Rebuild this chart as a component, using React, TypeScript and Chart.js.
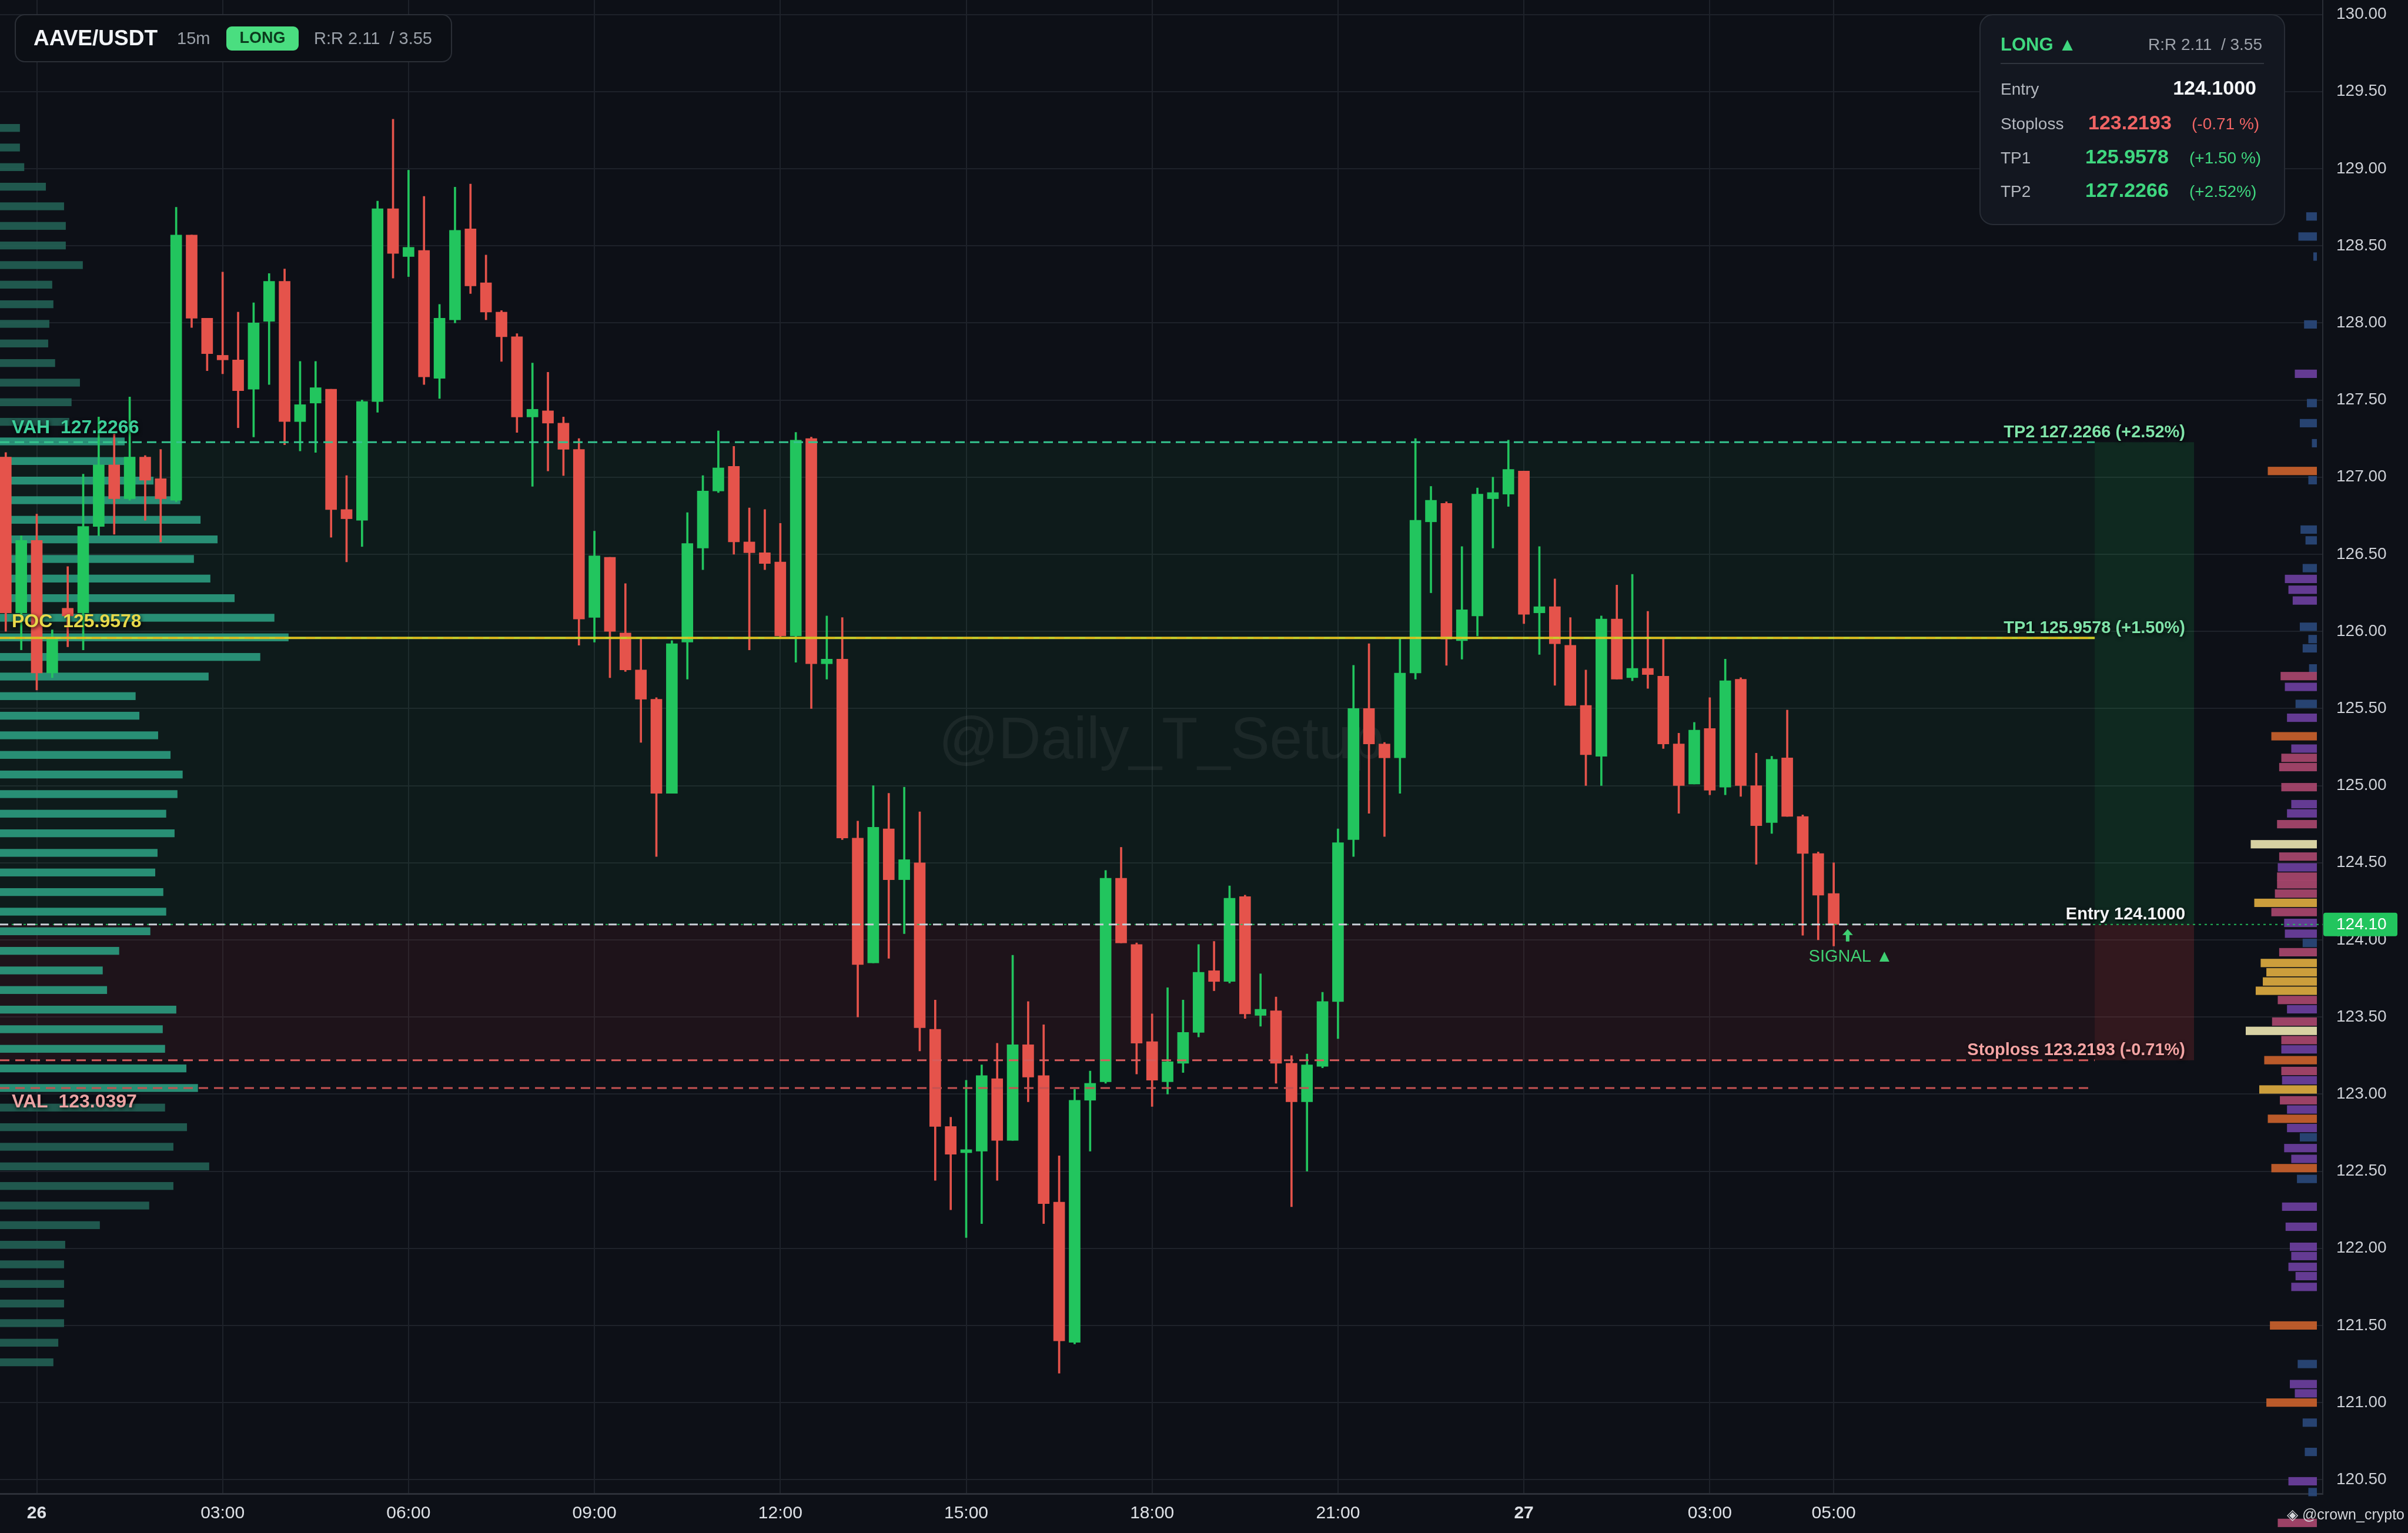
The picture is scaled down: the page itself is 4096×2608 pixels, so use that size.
import React, { useEffect, useRef } from 'react';
import { Chart, registerables } from 'chart.js';

Chart.register(...registerables);

// ---------------- data ----------------
const symbol = 'AAVE/USDT';
const timeframe = '15m';
const side = 'LONG';
const rrText = 'R:R 2.11  / 3.55';
const entryPrice = 124.1;
const stoplossPrice = 123.2193;
const tp1Price = 125.9578;
const tp2Price = 127.2266;
const pocPrice = 125.9578;
const vahPrice = 127.2266;
const valPrice = 123.0397;
const slPct = '-0.71';
const tp1Pct = '+1.50';
const tp2Pct = '+2.52';
const lastPriceTag = '124.10';

// first candle = 15-minute slot -2 relative to 26 00:00
const firstSlot = -2;

const opens = [
  127.13, 126.12, 126.59, 125.73, 126.15, 126.12, 126.68, 127.08, 126.86, 127.13,
  126.99, 126.85, 128.57, 128.03, 127.79, 127.76, 127.57, 128.01, 128.27, 127.36,
  127.48, 127.57, 126.79, 126.72, 127.49, 128.74, 128.43, 128.47, 127.64, 128.02,
  128.61, 128.26, 128.07, 127.91, 127.39, 127.43, 127.35, 127.18, 126.09, 126.48,
  125.99, 125.75, 125.56, 124.95, 125.93, 126.54, 126.91, 127.07, 126.58, 126.51,
  126.45, 125.97, 127.25, 125.79, 125.82, 124.66, 123.85, 124.72, 124.39, 124.50,
  123.42, 122.79, 122.62, 122.63, 123.10, 122.70, 123.32, 123.12, 122.30, 121.39,
  122.96, 123.08, 124.40, 123.97, 123.34, 123.08, 123.20, 123.40, 123.80, 123.73,
  124.28, 123.51, 123.54, 123.20, 122.95, 123.18, 123.60, 124.65, 125.50, 125.27,
  125.18, 125.73, 126.71, 126.83, 125.94, 126.10, 126.86, 126.89, 127.04, 126.12,
  126.16, 125.91, 125.52, 125.19, 126.08, 125.70, 125.76, 125.71, 125.27, 125.01,
  125.37, 124.99, 125.69, 125.00, 124.76, 125.18, 124.80, 124.56, 124.30,
];
const highs = [
  127.16, 126.62, 126.76, 126.01, 126.42, 127.02, 127.39, 127.28, 127.52, 127.14,
  127.18, 128.75, 128.57, 128.03, 128.33, 128.07, 128.13, 128.32, 128.35, 127.75,
  127.75, 127.57, 127.01, 127.50, 128.79, 129.32, 128.99, 128.82, 128.12, 128.88,
  128.90, 128.44, 128.08, 127.93, 127.74, 127.68, 127.39, 127.25, 126.65, 126.48,
  126.31, 125.95, 125.57, 125.94, 126.77, 127.01, 127.30, 127.20, 126.80, 126.79,
  126.70, 127.29, 127.26, 126.10, 126.09, 124.77, 125.00, 124.95, 124.99, 124.83,
  123.61, 122.85, 123.09, 123.19, 123.33, 123.90, 123.60, 123.45, 122.60, 123.03,
  123.15, 124.45, 124.60, 123.98, 123.52, 123.69, 123.61, 123.97, 123.99, 124.35,
  124.29, 123.78, 123.63, 123.25, 123.26, 123.66, 124.72, 125.78, 125.92, 125.28,
  125.96, 127.25, 126.94, 126.84, 126.55, 126.93, 127.00, 127.24, 127.04, 126.55,
  126.34, 126.09, 125.75, 126.10, 126.30, 126.37, 126.13, 125.95, 125.34, 125.41,
  125.57, 125.82, 125.70, 125.21, 125.19, 125.49, 124.81, 124.57, 124.50,
];
const lows = [
  126.00, 125.88, 125.62, 125.70, 125.90, 125.88, 126.62, 126.63, 126.85, 126.72,
  126.58, 126.84, 127.97, 127.69, 127.67, 127.32, 127.26, 127.60, 127.21, 127.17,
  127.16, 126.61, 126.45, 126.55, 127.42, 128.29, 128.30, 127.60, 127.51, 128.00,
  128.19, 128.02, 127.75, 127.29, 126.94, 127.04, 127.01, 125.91, 125.93, 125.70,
  125.74, 125.28, 124.54, 124.95, 125.69, 126.40, 126.90, 126.50, 125.88, 126.40,
  125.96, 125.80, 125.50, 125.69, 124.65, 123.50, 123.85, 123.88, 124.04, 123.28,
  122.44, 122.25, 122.07, 122.16, 122.44, 122.70, 122.95, 122.16, 121.19, 121.38,
  122.63, 123.07, 123.98, 123.13, 122.92, 123.00, 123.14, 123.37, 123.67, 123.72,
  123.49, 123.44, 123.07, 122.27, 122.50, 123.17, 123.36, 124.54, 124.82, 124.67,
  124.95, 125.69, 126.25, 125.78, 125.82, 125.97, 126.54, 126.81, 126.05, 125.85,
  125.65, 125.52, 125.00, 125.00, 125.69, 125.68, 125.63, 125.24, 124.82, 125.01,
  124.94, 124.94, 124.93, 124.49, 124.69, 124.80, 124.03, 124.00, 123.96,
];
const closes = [
  126.12, 126.59, 125.73, 125.95, 126.10, 126.68, 127.08, 126.86, 127.13, 126.98,
  126.86, 128.57, 128.03, 127.80, 127.76, 127.56, 128.00, 128.27, 127.36, 127.47,
  127.58, 126.79, 126.73, 127.49, 128.74, 128.45, 128.49, 127.65, 128.03, 128.60,
  128.24, 128.07, 127.91, 127.39, 127.44, 127.35, 127.18, 126.08, 126.49, 126.00,
  125.75, 125.56, 124.95, 125.92, 126.57, 126.91, 127.06, 126.58, 126.51, 126.44,
  125.97, 127.24, 125.79, 125.82, 124.66, 123.84, 124.73, 124.39, 124.52, 123.43,
  122.79, 122.61, 122.64, 123.12, 122.70, 123.32, 123.11, 122.29, 121.40, 122.96,
  123.07, 124.40, 123.98, 123.33, 123.09, 123.21, 123.40, 123.79, 123.73, 124.27,
  123.52, 123.55, 123.20, 122.95, 123.19, 123.60, 124.63, 125.50, 125.27, 125.18,
  125.73, 126.72, 126.85, 125.95, 126.14, 126.89, 126.90, 127.05, 126.11, 126.16,
  125.92, 125.52, 125.20, 126.08, 125.69, 125.76, 125.72, 125.27, 125.00, 125.36,
  124.97, 125.68, 125.00, 124.74, 125.17, 124.80, 124.56, 124.29, 124.10,
];

const xTickSlots = [0, 12, 24, 36, 48, 60, 72, 84, 96, 108, 116];
const xTickLabels = ['26', '03:00', '06:00', '09:00', '12:00', '15:00', '18:00', '21:00', '27', '03:00', '05:00'];
const yTickValues = [
  120.5, 121, 121.5, 122, 122.5, 123, 123.5, 124, 124.5, 125,
  125.5, 126, 126.5, 127, 127.5, 128, 128.5, 129, 129.5, 130,
];

// left volume profile (top bin first), relative volume (POC = 100)
const profileTopPrice = 129.264;
const profileBinSize = 0.12703;
const profileVolumes = [
  6.9, 6.9, 8.4, 15.9, 22.2, 22.8, 22.8, 28.7, 18.1, 18.5,
  17.1, 16.7, 19.1, 27.7, 24.8, 24.0, 43.2, 46.8, 53.2, 62.5,
  69.5, 75.4, 67.2, 72.9, 81.3, 95.1, 100, 90.2, 72.3, 47.0,
  48.3, 54.8, 59.1, 63.3, 61.5, 57.6, 60.5, 54.6, 53.8, 56.6,
  57.6, 52.1, 41.3, 35.6, 37.1, 61.1, 56.4, 57.2, 64.6, 68.6,
  57.2, 64.8, 60.1, 72.5, 60.1, 51.7, 34.6, 22.6, 22.2, 22.2,
  22.2, 22.2, 20.2, 18.5,
];

// right-edge heat profile
const heatPrices = [
  128.69, 128.56, 128.43, 127.99, 127.67, 127.48, 127.35, 127.22, 127.04, 126.98,
  126.66, 126.59, 126.41, 126.34, 126.27, 126.20, 126.03, 125.95, 125.89, 125.76,
  125.71, 125.64, 125.53, 125.44, 125.32, 125.24, 125.18, 125.12, 124.99, 124.88,
  124.82, 124.75, 124.62, 124.54, 124.47, 124.41, 124.36, 124.30, 124.24, 124.18,
  124.11, 124.04, 123.98, 123.92, 123.85, 123.79, 123.73, 123.67, 123.61, 123.55,
  123.47, 123.41, 123.35, 123.29, 123.22, 123.15, 123.09, 123.03, 122.96, 122.90,
  122.84, 122.78, 122.72, 122.65, 122.58, 122.52, 122.45, 122.27, 122.14, 122.01,
  121.95, 121.88, 121.82, 121.75, 121.50, 121.25, 121.12, 121.06, 121.00, 120.87,
  120.68, 120.49, 120.42, 120.22,
];
const heatVolumes = [
  15, 26, 5, 18, 31, 14, 24, 7, 69, 12,
  23, 16, 20, 45, 40, 34, 24, 12, 20, 11,
  51, 45, 30, 42, 64, 36, 50, 53, 50, 36,
  42, 56, 93, 53, 55, 56, 56, 59, 88, 64,
  46, 45, 20, 53, 79, 71, 76, 86, 55, 42,
  63, 100, 50, 50, 74, 50, 49, 81, 52, 42,
  69, 42, 24, 46, 36, 64, 28, 49, 44, 38,
  36, 40, 30, 36, 66, 27, 38, 31, 71, 20,
  17, 40, 12, 55,
];
const heatLevels = [
  0, 0, 0, 0, 1, 0, 0, 0, 3, 0,
  0, 0, 0, 1, 1, 1, 0, 0, 0, 0,
  2, 1, 0, 1, 3, 1, 2, 2, 2, 1,
  1, 2, 5, 2, 1, 2, 2, 2, 4, 2,
  1, 1, 0, 2, 4, 4, 4, 4, 2, 1,
  2, 5, 2, 1, 3, 2, 1, 4, 2, 1,
  3, 1, 0, 1, 1, 3, 0, 1, 1, 1,
  1, 1, 1, 1, 3, 0, 1, 1, 3, 0,
  0, 1, 0, 2,
];

// ---------------- layout / style ----------------
const W = 4096;
const H = 2608;
const BG = '#0d1017';
const UP = '#22c55e';
const DOWN = '#e5534b';
const FONT = '"Liberation Sans", "Helvetica Neue", Arial, sans-serif';
const X_MIN = -2.372;
const X_MAX = 147.57;
const Y_MIN = 120.4098;
const Y_MAX = 130.0934;
const ZONE_END_SLOT = 132.85;
const BOX_END_SLOT = 139.26;
const VAL_END_SLOT = 132.47;
const LABEL_RIGHT_SLOT = 138.69;
const SIGNAL_SLOT = 117.1;
const ARROW_SLOT = 116.9;
const PROFILE_AXIS_MAX = 805;
const HEAT_AXIS_MAX = 3265;
const HEAT_COLORS = ['#29487a', '#6b3f9e', '#a8466e', '#c9612d', '#dcaa40', '#e8e2b0'];

function text(ctx: any, s: string, x: number, y: number, font: string, color: string, align: string = 'left', shadow = false) {
  ctx.save();
  ctx.font = font;
  ctx.fillStyle = color;
  ctx.textAlign = align;
  ctx.textBaseline = 'middle';
  if (shadow) {
    ctx.shadowColor = 'rgba(0,0,0,0.9)';
    ctx.shadowBlur = 6;
    ctx.shadowOffsetX = 1;
    ctx.shadowOffsetY = 2;
  }
  ctx.fillText(s, x, y);
  ctx.restore();
}

function hline(ctx: any, x1: number, x2: number, y: number, color: string, width: number, dash: number[]) {
  ctx.save();
  ctx.strokeStyle = color;
  ctx.lineWidth = width;
  ctx.setLineDash(dash);
  ctx.beginPath();
  ctx.moveTo(x1, y);
  ctx.lineTo(x2, y);
  ctx.stroke();
  ctx.restore();
}

function rrect(ctx: any, x: number, y: number, w: number, h: number, r: number, fill: string, stroke?: string, lw = 2) {
  ctx.save();
  ctx.beginPath();
  ctx.roundRect(x, y, w, h, r);
  ctx.fillStyle = fill;
  ctx.fill();
  if (stroke) {
    ctx.strokeStyle = stroke;
    ctx.lineWidth = lw;
    ctx.stroke();
  }
  ctx.restore();
}

const bgPlugin = {
  id: 'bgFill',
  beforeDraw(chart: any) {
    const ctx = chart.ctx;
    ctx.save();
    ctx.fillStyle = BG;
    ctx.fillRect(0, 0, chart.width, chart.height);
    ctx.restore();
  },
};

const overlayPlugin = {
  id: 'tradeOverlay',
  beforeDatasetsDraw(chart: any) {
    const { ctx, chartArea: ca, scales } = chart;
    const x = scales.x;
    const y = scales.y;
    const yTP2 = y.getPixelForValue(tp2Price);
    const yEntry = y.getPixelForValue(entryPrice);
    const ySL = y.getPixelForValue(stoplossPrice);
    const xZoneEnd = x.getPixelForValue(ZONE_END_SLOT);
    const xBoxEnd = x.getPixelForValue(BOX_END_SLOT);
    ctx.save();
    ctx.fillStyle = 'rgba(34,197,94,0.065)';
    ctx.fillRect(ca.left, yTP2, xBoxEnd - ca.left, yEntry - yTP2);
    ctx.fillStyle = 'rgba(34,197,94,0.085)';
    ctx.fillRect(xZoneEnd, yTP2, xBoxEnd - xZoneEnd, yEntry - yTP2);
    ctx.fillStyle = 'rgba(239,68,68,0.075)';
    ctx.fillRect(ca.left, yEntry, xBoxEnd - ca.left, ySL - yEntry);
    ctx.fillStyle = 'rgba(239,68,68,0.1)';
    ctx.fillRect(xZoneEnd, yEntry, xBoxEnd - xZoneEnd, ySL - yEntry);
    ctx.restore();

    // watermark
    text(ctx, '@Daily_T_Setup', (ca.left + ca.right) / 2, (ca.top + ca.bottom) / 2 - 8, `100px ${FONT}`, 'rgba(255,255,255,0.06)', 'center');

    // left volume profile
    const xp = scales.xProfile;
    ctx.save();
    profileVolumes.forEach((v, i) => {
      const p = profileTopPrice - i * profileBinSize;
      const yc = y.getPixelForValue(p);
      const h = Math.abs(y.getPixelForValue(p - profileBinSize * 0.2) - y.getPixelForValue(p + profileBinSize * 0.2));
      const inVA = p <= vahPrice + 0.03 && p >= valPrice - 0.03;
      ctx.fillStyle = inVA ? 'rgba(43,156,127,0.9)' : 'rgba(34,96,84,0.9)';
      ctx.fillRect(ca.left, yc - h / 2, xp.getPixelForValue(v) - ca.left, h);
    });
    ctx.restore();
  },
  afterDatasetsDraw(chart: any) {
    const { ctx, chartArea: ca, scales } = chart;
    const x = scales.x;
    const y = scales.y;
    const xZoneEnd = x.getPixelForValue(ZONE_END_SLOT);
    const xValEnd = x.getPixelForValue(VAL_END_SLOT);
    const xLabelRight = x.getPixelForValue(LABEL_RIGHT_SLOT);

    // right heat profile
    const xh = scales.xHeat;
    ctx.save();
    heatPrices.forEach((p, i) => {
      const yc = y.getPixelForValue(p);
      const h = Math.abs(y.getPixelForValue(p - 0.027) - y.getPixelForValue(p + 0.027));
      const xr = ca.right - 10;
      const xl = xh.getPixelForValue(heatVolumes[i]) - 10;
      ctx.fillStyle = HEAT_COLORS[heatLevels[i]];
      ctx.globalAlpha = 0.92;
      ctx.fillRect(xl, yc - h / 2, xr - xl, h);
    });
    ctx.restore();

    const yTP2 = y.getPixelForValue(tp2Price);
    const yTP1 = y.getPixelForValue(tp1Price);
    const yEntry = y.getPixelForValue(entryPrice);
    const ySL = y.getPixelForValue(stoplossPrice);
    const yVAL = y.getPixelForValue(valPrice);
    const yVAH = y.getPixelForValue(vahPrice);
    const yPOC = y.getPixelForValue(pocPrice);

    // lines
    hline(ctx, ca.left, ca.right, yEntry, 'rgba(34,197,94,0.9)', 2, [4, 6]);
    hline(ctx, ca.left, xZoneEnd, yEntry, '#c9ced6', 3, [14, 9]);
    hline(ctx, ca.left, xZoneEnd, yTP2, '#35c48e', 3, [16, 9]);
    hline(ctx, ca.left, xZoneEnd, yTP1, '#c9cf2c', 4, []);
    hline(ctx, ca.left, xZoneEnd, yTP1, 'rgba(240,170,20,0.8)', 2, [16, 10]);
    hline(ctx, ca.left, xZoneEnd, ySL, '#d85c5c', 3, [16, 10]);
    hline(ctx, ca.left, xValEnd, yVAL, '#c45252', 3, [16, 10]);

    // profile labels (left)
    text(ctx, 'VAH  ' + vahPrice.toFixed(4), 20, yVAH - 24, `bold 32px ${FONT}`, '#3ccf9a', 'left', true);
    text(ctx, 'POC  ' + pocPrice.toFixed(4), 20, yPOC - 27, `bold 32px ${FONT}`, '#e8d94a', 'left', true);
    text(ctx, 'VAL  ' + valPrice.toFixed(4), 20, yVAL + 24, `bold 32px ${FONT}`, '#eba3a3', 'left', true);

    // level labels (right)
    text(ctx, `TP2 ${tp2Price.toFixed(4)} (${tp2Pct}%)`, xLabelRight, yTP2 - 16, `bold 29px ${FONT}`, '#7fe3a9', 'right', true);
    text(ctx, `TP1 ${tp1Price.toFixed(4)} (${tp1Pct}%)`, xLabelRight, yTP1 - 16, `bold 29px ${FONT}`, '#7fe3a9', 'right', true);
    text(ctx, `Entry ${entryPrice.toFixed(4)}`, xLabelRight, yEntry - 17, `bold 29px ${FONT}`, '#f2f3f5', 'right', true);
    text(ctx, `Stoploss ${stoplossPrice.toFixed(4)} (${slPct}%)`, xLabelRight, ySL - 17, `bold 29px ${FONT}`, '#f3a3a3', 'right', true);

    // signal marker
    const xs = x.getPixelForValue(SIGNAL_SLOT);
    const xa = x.getPixelForValue(ARROW_SLOT);
    ctx.save();
    ctx.fillStyle = '#3fcf72';
    ctx.beginPath();
    ctx.moveTo(xa, yEntry + 8);
    ctx.lineTo(xa + 9, yEntry + 18);
    ctx.lineTo(xa - 9, yEntry + 18);
    ctx.closePath();
    ctx.fill();
    ctx.fillRect(xa - 3, yEntry + 17, 6, 12);
    ctx.restore();
    text(ctx, 'SIGNAL ▲', xs, yEntry + 55, `29px ${FONT}`, '#3fcf72', 'center');
  },
  afterDraw(chart: any) {
    const { ctx, chartArea: ca, scales } = chart;
    const y = scales.y;
    // price tag on axis
    const yEntry = y.getPixelForValue(entryPrice);
    rrect(ctx, ca.right + 1, yEntry - 20, 126, 40, 4, '#22c55e');
    text(ctx, lastPriceTag, ca.right + 23, yEntry + 1, `28px ${FONT}`, '#ffffff', 'left');

    // header box
    rrect(ctx, 26, 25, 742, 80, 16, '#0c0f15', '#2b2f37', 2);
    text(ctx, symbol, 57, 67, `bold 37px ${FONT}`, '#f2f4f7');
    text(ctx, timeframe, 301, 67, `29px ${FONT}`, '#9aa0a8');
    rrect(ctx, 385, 45, 123, 41, 9, '#4ade80');
    text(ctx, side, 446.5, 66, `bold 27px ${FONT}`, '#0b3b1d', 'center');
    text(ctx, rrText, 534, 67, `29px ${FONT}`, '#9aa0a8');

    // info box
    rrect(ctx, 3368, 25, 518, 357, 22, '#131720', '#282d36', 2);
    text(ctx, side + ' ▲', 3403, 77, `bold 31px ${FONT}`, '#3fd77f');
    text(ctx, rrText, 3848, 77, `28px ${FONT}`, '#9ea3ab', 'right');
    ctx.save();
    ctx.strokeStyle = '#30353e';
    ctx.lineWidth = 2;
    ctx.beginPath();
    ctx.moveTo(3403, 108);
    ctx.lineTo(3851, 108);
    ctx.stroke();
    ctx.restore();
    text(ctx, 'Entry', 3403, 153, `28px ${FONT}`, '#b4b8bf');
    text(ctx, entryPrice.toFixed(4), 3838, 152, `bold 34px ${FONT}`, '#f4f6f8', 'right');
    text(ctx, 'Stoploss', 3403, 212, `28px ${FONT}`, '#b4b8bf');
    text(ctx, stoplossPrice.toFixed(4), 3552, 211, `bold 34px ${FONT}`, '#f06464');
    text(ctx, `(${slPct} %)`, 3728, 212, `28px ${FONT}`, '#f06464');
    text(ctx, 'TP1', 3403, 270, `28px ${FONT}`, '#b4b8bf');
    text(ctx, tp1Price.toFixed(4), 3547, 269, `bold 34px ${FONT}`, '#3fd77f');
    text(ctx, `(${tp1Pct} %)`, 3724, 270, `28px ${FONT}`, '#3fd77f');
    text(ctx, 'TP2', 3403, 327, `28px ${FONT}`, '#b4b8bf');
    text(ctx, tp2Price.toFixed(4), 3547, 326, `bold 34px ${FONT}`, '#3fd77f');
    text(ctx, `(${tp2Pct}%)`, 3724, 327, `28px ${FONT}`, '#3fd77f');

    // credit
    text(ctx, '◈ @crown_crypto', 4090, 2578, `25px ${FONT}`, '#d4d6da', 'right');
  },
};

export default function App() {
  const ref = useRef<HTMLCanvasElement>(null);

  useEffect(() => {
    document.body.style.margin = '0';
    document.body.style.background = BG;
    const colors = closes.map((c, i) => (c >= opens[i] ? UP : DOWN));
    const wickData = closes.map((c, i) => ({ x: firstSlot + i, y: [lows[i], highs[i]] }));
    const bodyData = closes.map((c, i) => ({ x: firstSlot + i, y: [opens[i], c] }));

    const chart = new Chart(ref.current as HTMLCanvasElement, {
      type: 'bar',
      data: {
        datasets: [
          {
            label: 'body',
            data: bodyData as any,
            backgroundColor: colors,
            borderWidth: 0,
            barThickness: 19,
            grouped: false,
            order: 1,
            xAxisID: 'x',
            yAxisID: 'y',
          } as any,
          {
            label: 'wick',
            data: wickData as any,
            backgroundColor: colors,
            borderWidth: 0,
            barThickness: 3,
            grouped: false,
            order: 2,
            xAxisID: 'x',
            yAxisID: 'y',
          } as any,
        ],
      },
      options: {
        animation: false,
        responsive: false,
        devicePixelRatio: 1,
        maintainAspectRatio: false,
        events: [],
        layout: { padding: 0 },
        plugins: {
          legend: { display: false },
          tooltip: { enabled: false },
        },
        scales: {
          x: {
            type: 'linear',
            position: 'bottom',
            min: X_MIN,
            max: X_MAX,
            offset: false,
            grid: { color: '#1e222a', lineWidth: 2, drawTicks: false, offset: false },
            border: { display: true, color: '#2d3139', width: 3 },
            afterBuildTicks: (s: any) => {
              s.ticks = xTickSlots.map((v) => ({ value: v }));
            },
            afterFit: (s: any) => {
              s.height = 67;
              s.paddingLeft = 0;
              s.paddingRight = 0;
            },
            ticks: {
              autoSkip: false,
              maxRotation: 0,
              minRotation: 0,
              padding: 16,
              color: '#dde0e5',
              font: (c: any) => {
                const idx = c.tick ? xTickSlots.indexOf(c.tick.value) : -1;
                const isDay = idx >= 0 && xTickLabels[idx].length <= 2;
                return { family: FONT, size: 30, weight: isDay ? 'bold' : 'normal' };
              },
              callback: (v: any) => {
                const idx = xTickSlots.indexOf(Number(v));
                return idx >= 0 ? xTickLabels[idx] : '';
              },
            },
          },
          y: {
            type: 'linear',
            position: 'right',
            min: Y_MIN,
            max: Y_MAX,
            grid: { color: '#1e222a', lineWidth: 2, drawTicks: false },
            border: { display: true, color: '#2a2e36', width: 2 },
            afterBuildTicks: (s: any) => {
              s.ticks = yTickValues.map((v) => ({ value: v }));
            },
            afterFit: (s: any) => {
              s.width = 145;
              s.paddingTop = 0;
              s.paddingBottom = 0;
            },
            ticks: {
              padding: 23,
              color: '#cdd0d6',
              font: { family: FONT, size: 28 },
              callback: (v: any) => Number(v).toFixed(2),
            },
          },
          xProfile: {
            type: 'linear',
            display: false,
            position: 'bottom',
            offset: false,
            grid: { offset: false },
            min: 0,
            max: PROFILE_AXIS_MAX,
          },
          xHeat: {
            type: 'linear',
            display: false,
            position: 'bottom',
            offset: false,
            grid: { offset: false },
            reverse: true,
            min: 0,
            max: HEAT_AXIS_MAX,
          },
        } as any,
      },
      plugins: [bgPlugin, overlayPlugin],
    } as any);

    return () => chart.destroy();
  }, []);

  return (
    <div style={{ position: 'fixed', left: 0, top: 0, width: W, height: H, background: BG, overflow: 'hidden' }}>
      <canvas ref={ref} width={W} height={H} style={{ display: 'block', width: W, height: H }} />
    </div>
  );
}
